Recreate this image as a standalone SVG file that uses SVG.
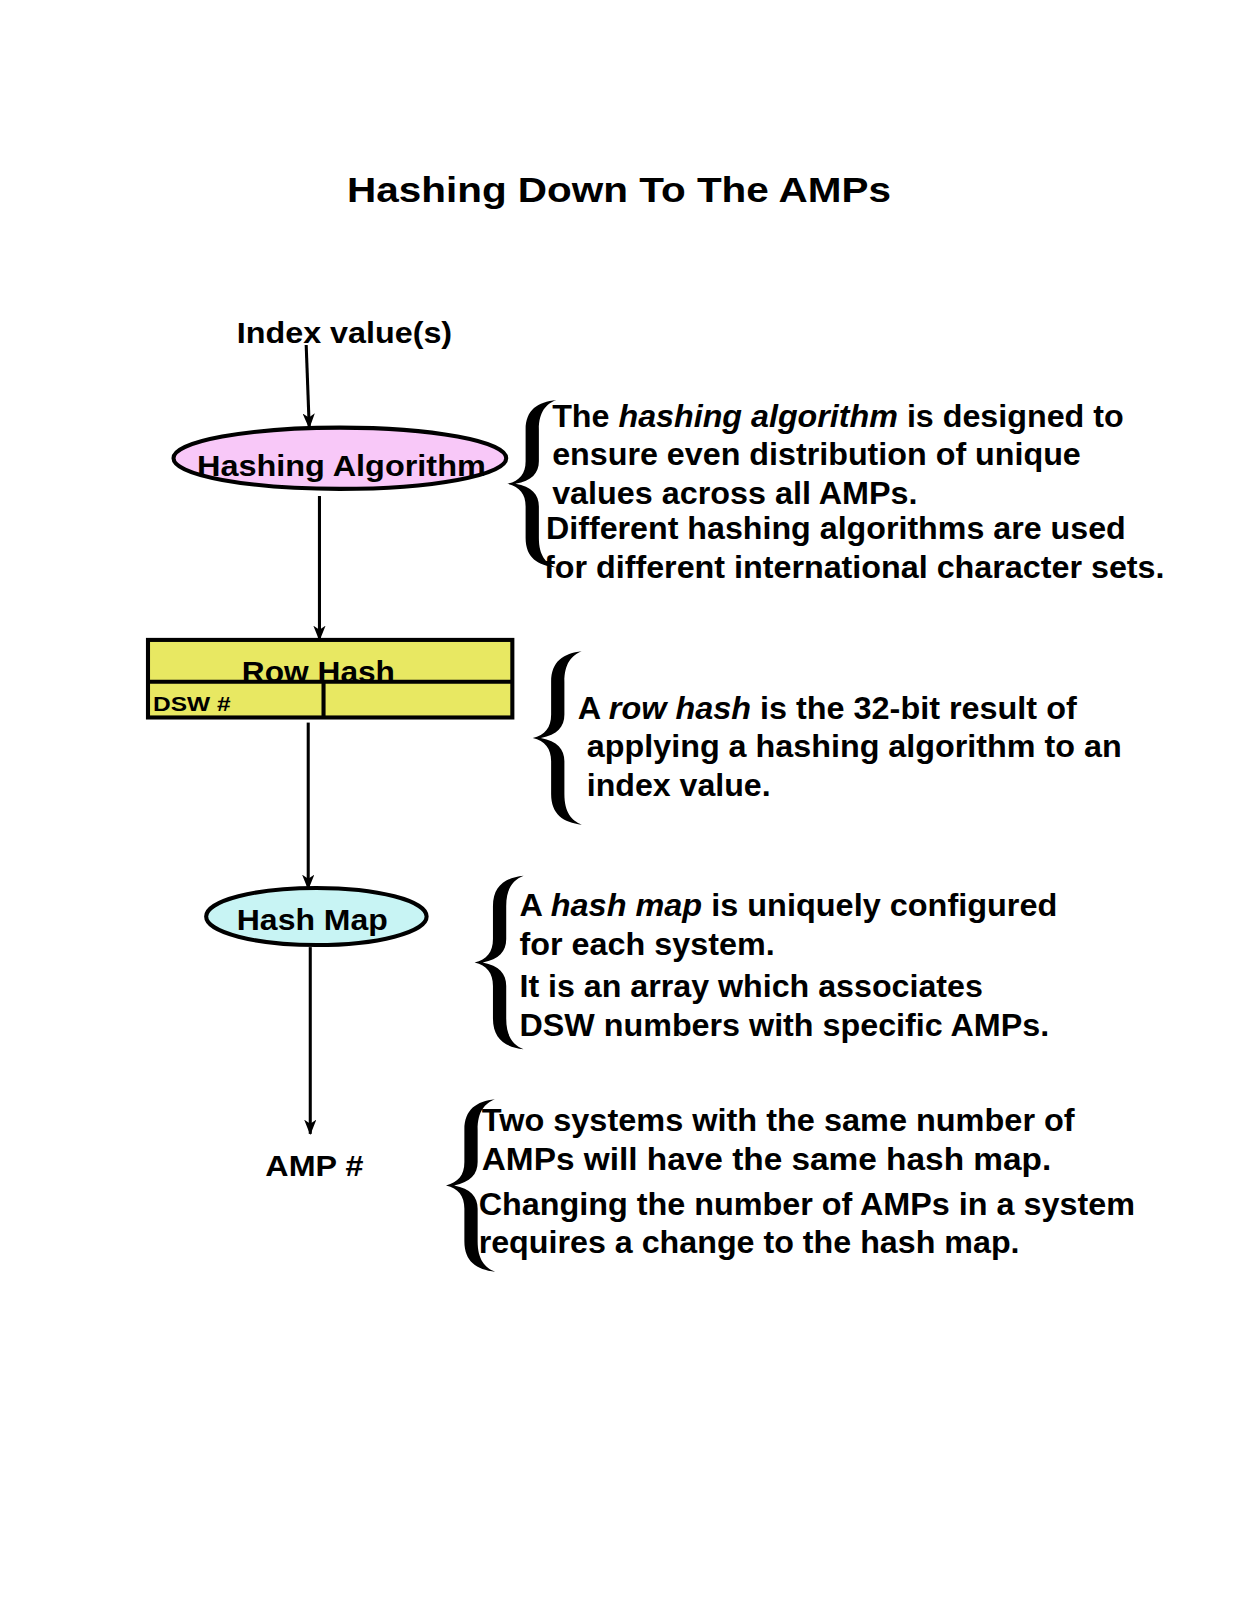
<svg xmlns="http://www.w3.org/2000/svg" width="1236" height="1600" viewBox="0 0 1236 1600">
<style>
.t{font-family:"Liberation Sans",Arial,sans-serif;font-weight:bold;fill:#000}
.body{font-size:30px}
.ln{stroke:#000;stroke-width:3;fill:none}
.shape{stroke:#000;stroke-width:4}
</style>
<defs>
<marker id="ah" viewBox="0 0 15 12" refX="14" refY="6" markerWidth="15" markerHeight="12" markerUnits="userSpaceOnUse" orient="auto">
<path d="M0,0 L15,6 L0,12 L4,6 Z" fill="#000"/>
</marker>
<path id="brace" d="M48,0 C30,2 18,10 18,30 L18,62 C18,75 12,82 0,85 C12,88 18,95 18,108 L18,140 C18,160 30,168 48,170 C38,166 31,158 31,140 L31,108 C31,96 24,88 8,85 C24,82 31,74 31,62 L31,30 C31,12 38,4 48,0 Z" fill="#000"/>
</defs>
<rect width="1236" height="1600" fill="#fff"/>
<g transform="scale(1.0206)">
<text class="t" x="340" y="198" font-size="35" textLength="533" lengthAdjust="spacingAndGlyphs">Hashing Down To The AMPs</text>

<g id="connectors">
<line class="ln" x1="300" y1="338" x2="303" y2="419" marker-end="url(#ah)"/>
<line class="ln" x1="313" y1="486" x2="313" y2="627" marker-end="url(#ah)"/>
<line class="ln" x1="302" y1="708" x2="302" y2="871" marker-end="url(#ah)"/>
<line class="ln" x1="304" y1="928" x2="304" y2="1111" marker-end="url(#ah)"/>
</g>

<g id="index-values">
<text class="t" x="232" y="336" font-size="28" textLength="211" lengthAdjust="spacingAndGlyphs">Index value(s)</text>
</g>

<g id="hashing-algorithm">
<ellipse class="shape" cx="333" cy="449" rx="163" ry="30" fill="#f8c8f8"/>
<text class="t" x="193" y="466" font-size="29" textLength="283" lengthAdjust="spacingAndGlyphs">Hashing Algorithm</text>
</g>

<g id="row-hash">
<rect class="shape" x="145" y="627" width="357" height="76" fill="#e8e862"/>
<text class="t" x="237" y="668" font-size="28" textLength="150" lengthAdjust="spacingAndGlyphs">Row Hash</text>
<line class="shape" x1="145" y1="668" x2="502" y2="668"/>
<line class="shape" x1="317" y1="668" x2="317" y2="703"/>
<text class="t" x="150" y="697" font-size="20" textLength="76" lengthAdjust="spacingAndGlyphs">DSW #</text>
</g>

<g id="hash-map">
<ellipse class="shape" cx="310" cy="898" rx="108" ry="28" fill="#c8f4f4"/>
<text class="t" x="232" y="911" font-size="29" textLength="148" lengthAdjust="spacingAndGlyphs">Hash Map</text>
</g>

<g id="amp">
<text class="t" x="260" y="1152" font-size="28" textLength="96" lengthAdjust="spacingAndGlyphs">AMP #</text>
</g>

<g id="note-hashing">
<use href="#brace" transform="translate(497,392) scale(1,0.965)"/>
<text class="t body" x="541" y="418" textLength="560" lengthAdjust="spacingAndGlyphs">The <tspan font-style="italic">hashing algorithm</tspan> is designed to</text>
<text class="t body" x="541" y="456" textLength="518" lengthAdjust="spacingAndGlyphs">ensure even distribution of unique</text>
<text class="t body" x="541" y="494" textLength="358" lengthAdjust="spacingAndGlyphs">values across all AMPs.</text>
<text class="t body" x="535" y="528" textLength="568" lengthAdjust="spacingAndGlyphs">Different hashing algorithms are used</text>
<text class="t body" x="533" y="566" textLength="608" lengthAdjust="spacingAndGlyphs">for different international character sets.</text>
</g>

<g id="note-rowhash">
<use href="#brace" transform="translate(522,638)"/>
<text class="t body" x="566" y="704" textLength="489" lengthAdjust="spacingAndGlyphs">A <tspan font-style="italic">row hash</tspan> is the 32-bit result of</text>
<text class="t body" x="575" y="742" textLength="524" lengthAdjust="spacingAndGlyphs">applying a hashing algorithm to an</text>
<text class="t body" x="575" y="780" textLength="180" lengthAdjust="spacingAndGlyphs">index value.</text>
</g>

<g id="note-hashmap">
<use href="#brace" transform="translate(465,858)"/>
<text class="t body" x="509" y="898" textLength="527" lengthAdjust="spacingAndGlyphs">A <tspan font-style="italic">hash map</tspan> is uniquely configured</text>
<text class="t body" x="509" y="936" textLength="250" lengthAdjust="spacingAndGlyphs">for each system.</text>
<text class="t body" x="509" y="977" textLength="454" lengthAdjust="spacingAndGlyphs">It is an array which associates</text>
<text class="t body" x="509" y="1015" textLength="519" lengthAdjust="spacingAndGlyphs">DSW numbers with specific AMPs.</text>
</g>

<g id="note-amps">
<use href="#brace" transform="translate(437,1077) scale(1,0.994)"/>
<text class="t body" x="472" y="1108" textLength="581" lengthAdjust="spacingAndGlyphs">Two systems with the same number of</text>
<text class="t body" x="472" y="1146" textLength="558" lengthAdjust="spacingAndGlyphs">AMPs will have the same hash map.</text>
<text class="t body" x="469" y="1190" textLength="643" lengthAdjust="spacingAndGlyphs">Changing the number of AMPs in a system</text>
<text class="t body" x="469" y="1228" textLength="530" lengthAdjust="spacingAndGlyphs">requires a change to the hash map.</text>
</g>
</g>
</svg>
